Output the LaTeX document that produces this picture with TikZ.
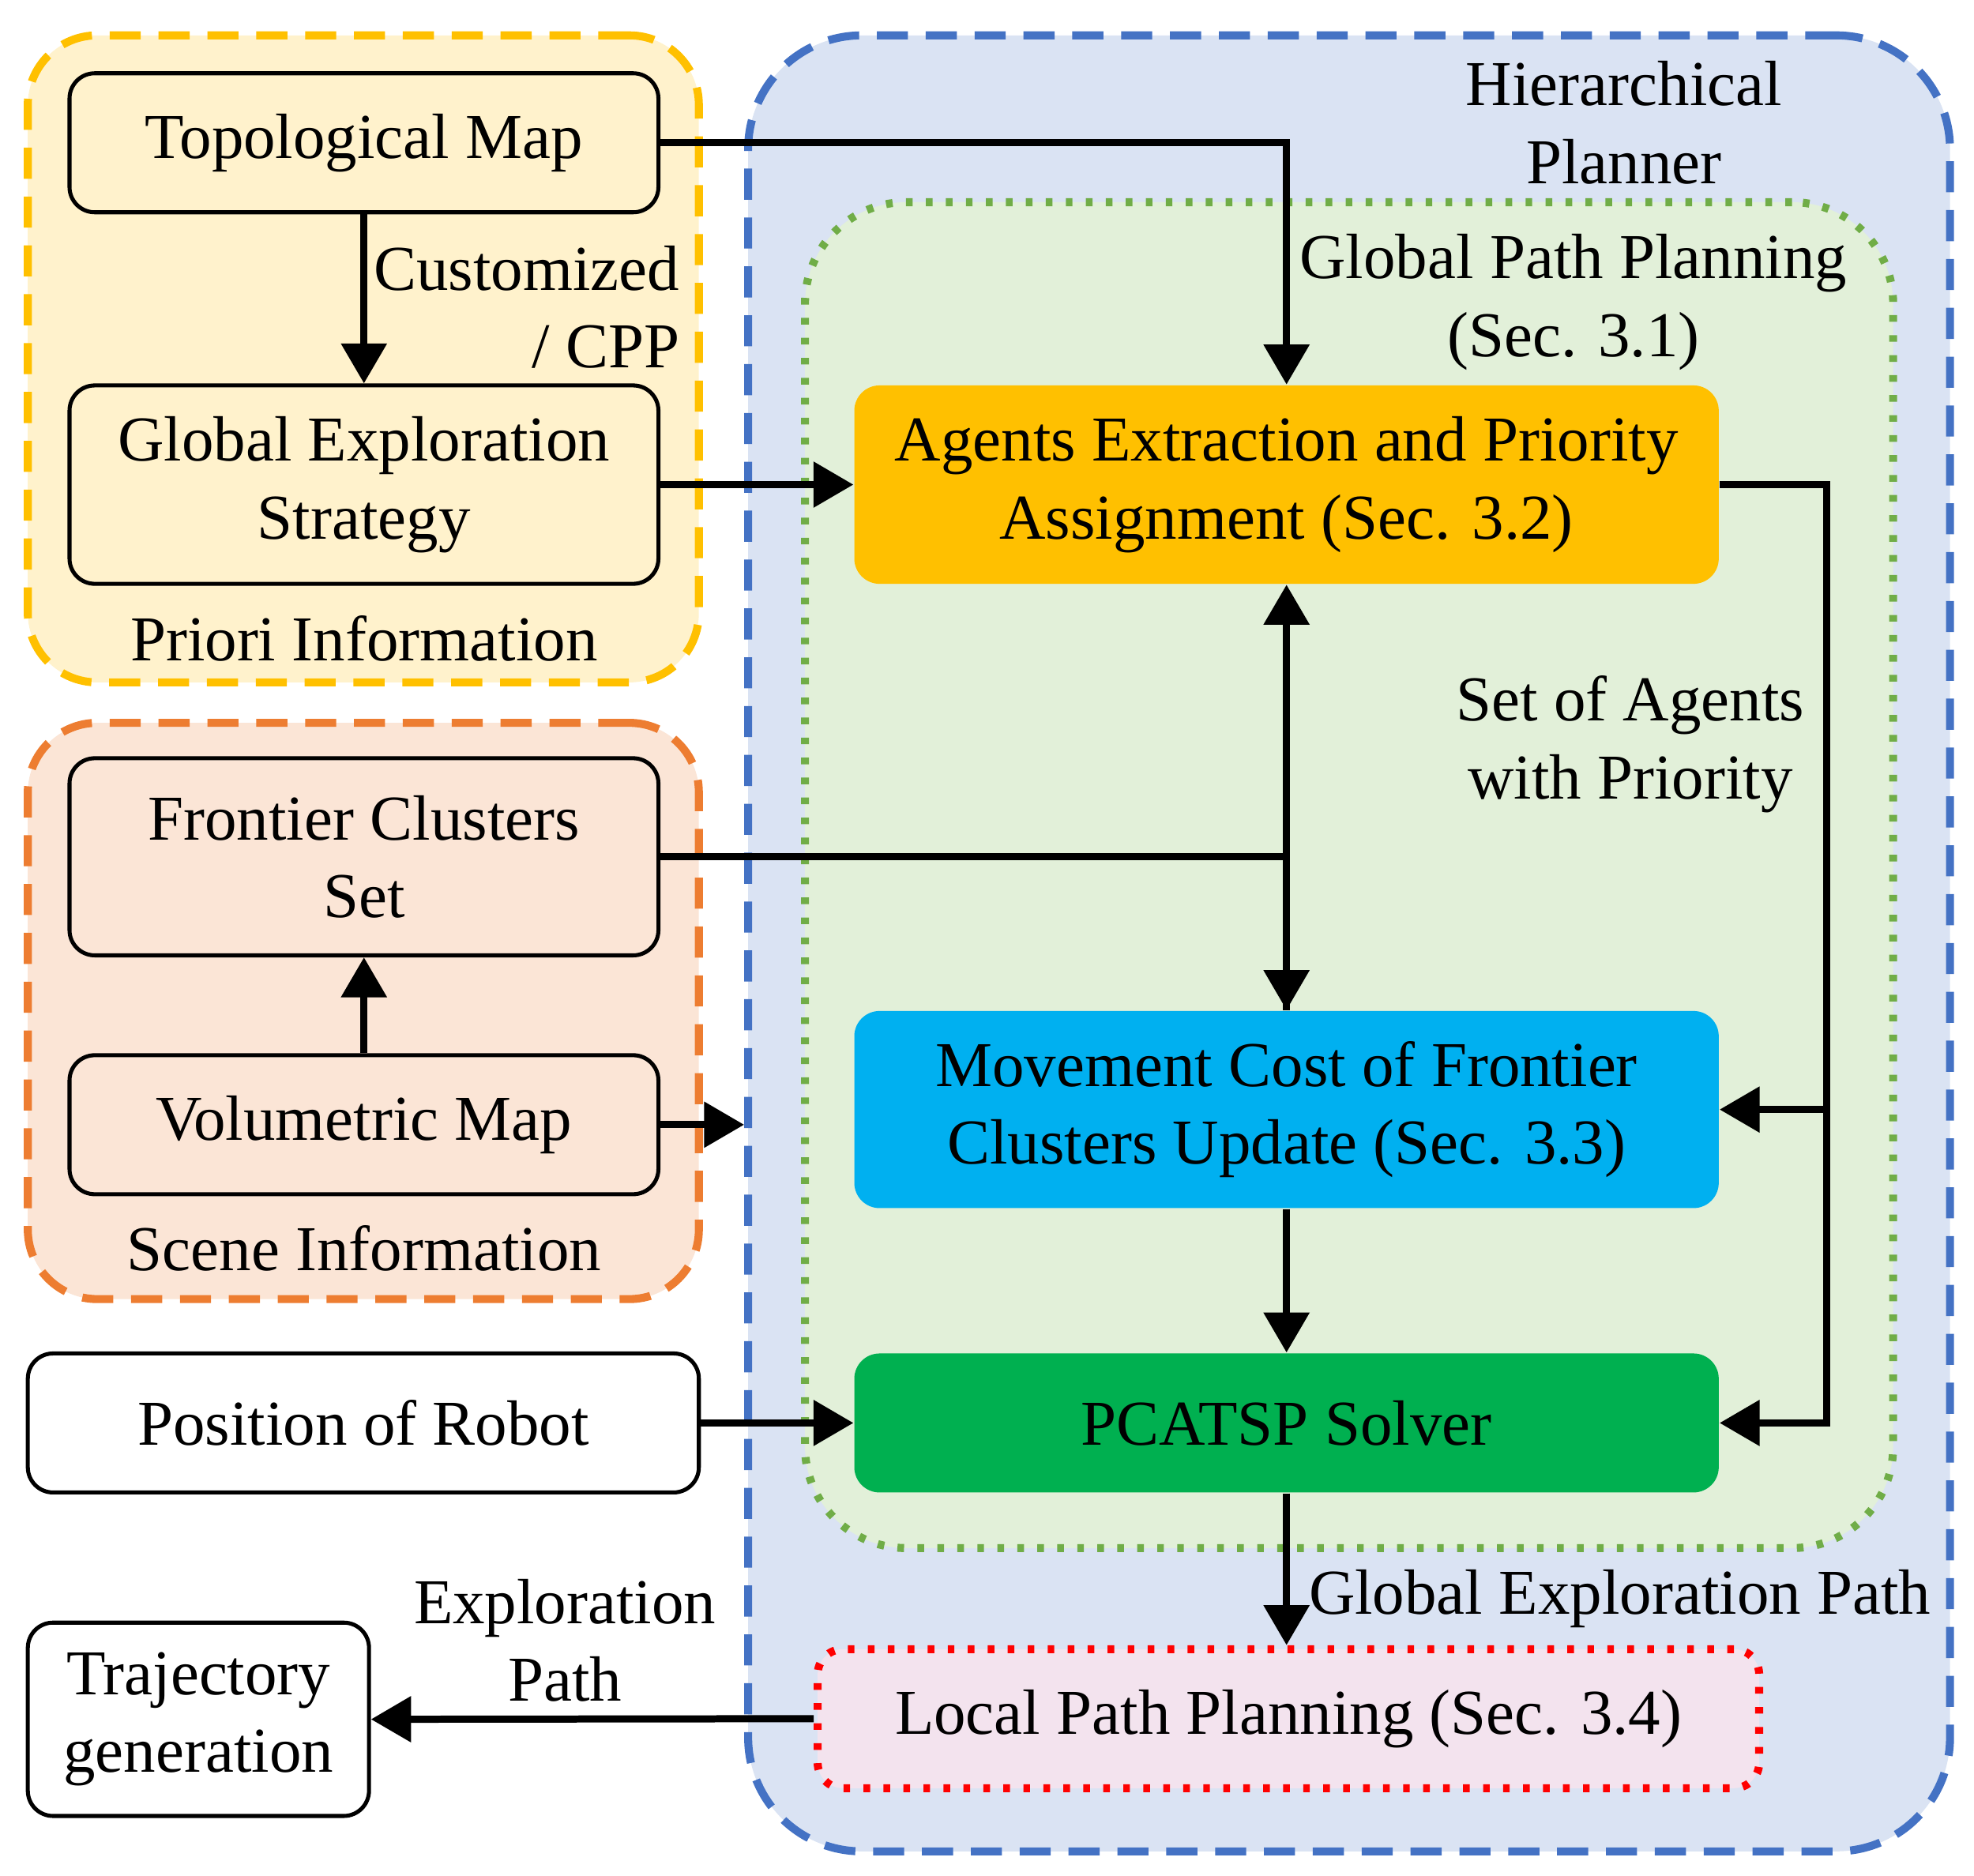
\documentclass[tikz,border=0pt]{standalone}
\usepackage{fontspec}
\setmainfont{Liberation Serif}
\usetikzlibrary{arrows.meta,positioning}

\definecolor{yelfill}{HTML}{FFF2CC}
\definecolor{yeldash}{HTML}{FFC000}
\definecolor{orafill}{HTML}{FBE5D6}
\definecolor{oradash}{HTML}{ED7D31}
\definecolor{bluefill}{HTML}{DAE3F3}
\definecolor{bluedash}{HTML}{4472C4}
\definecolor{grnfill}{HTML}{E2F0D9}
\definecolor{grndash}{HTML}{70AD47}
\definecolor{agentcol}{HTML}{FFC000}
\definecolor{movecol}{HTML}{00B0F0}
\definecolor{solvecol}{HTML}{00B050}
\definecolor{localfill}{HTML}{F3E3EE}

\tikzset{
  group/.style={draw, line width=1.8pt, rounded corners=0.55cm},
  box/.style={draw, line width=0.9pt, rounded corners=0.2cm, align=center},
  block/.style={rounded corners=0.2cm, align=center, minimum width=6.84cm},
  flow/.style={line width=1.6pt, -{Triangle[length=9pt,width=10pt]}},
}

\begin{document}
\begin{tikzpicture}[font=\fontsize{14.4}{17.5}\selectfont]
\useasboundingbox (0,0) rectangle (15.62,14.84);

% groups
\node[group, draw=yeldash, fill=yelfill, dash pattern=on 7pt off 4pt, minimum width=5.31cm, minimum height=5.12cm] (priori) at (2.875,12.00) {};
\node[group, draw=oradash, fill=orafill, dash pattern=on 7pt off 4pt, minimum width=5.31cm, minimum height=4.56cm] (scene) at (2.875,6.84) {};
\node[group, draw=bluedash, fill=bluefill, dash pattern=on 7pt off 4pt, rounded corners=0.9cm, minimum width=9.51cm, minimum height=14.37cm] (planner) at (10.675,7.375) {};
\node[group, draw=grndash, fill=grnfill, dash pattern=on 1.5pt off 3pt, rounded corners=0.8cm, minimum width=8.61cm, minimum height=10.65cm] (global) at (10.675,7.915) {};

% nodes
\node[box, fill=yelfill, minimum width=4.66cm, minimum height=1.10cm] (topo) at (2.88,13.71) {Topological Map};
\node[box, fill=yelfill, minimum width=4.66cm, minimum height=1.57cm] (strategy) at (2.88,11.005) {Global Exploration\\Strategy};
\node[box, fill=orafill, minimum width=4.66cm, minimum height=1.56cm] (frontier) at (2.88,8.06) {Frontier Clusters\\Set};
\node[box, fill=orafill, minimum width=4.66cm, minimum height=1.10cm] (volume) at (2.88,5.94) {Volumetric Map};
\node[box, fill=white, minimum width=5.31cm, minimum height=1.10cm] (robot) at (2.875,3.58) {Position of Robot};
\node[box, fill=white, minimum width=2.70cm, minimum height=1.53cm, inner sep=1pt] (traj) at (1.57,1.235) {Trajectory\\generation};

\node[block, fill=agentcol, minimum height=1.57cm] (agents) at (10.18,11.005) {Agents Extraction and Priority\\Assignment (Sec. 3.2)};
\node[block, fill=movecol, minimum height=1.56cm] (movement) at (10.18,6.06) {Movement Cost of Frontier\\Clusters Update (Sec. 3.3)};
\node[block, fill=solvecol, minimum height=1.10cm] (solver) at (10.18,3.58) {PCATSP Solver};
\node[draw=red, line width=1.8pt, dash pattern=on 1.5pt off 3pt, fill=localfill, rounded corners=0.2cm, minimum width=7.45cm, minimum height=1.10cm] (local) at (10.195,1.24) {Local Path Planning (Sec. 3.4)};

% labels
\node[align=center] (plannerlbl) at (12.85,13.87) {Hierarchical\\Planner};
\node[align=center] (globallbl) at (12.45,12.45) {Global Path Planning\\(Sec. 3.1)};
\node[align=right, anchor=east] (cpplbl) at (5.50,12.41) {Customized\\/ CPP};
\node (priorilbl) at (2.88,9.79) {Priori Information};
\node (scenelbl) at (2.88,4.96) {Scene Information};
\node[align=center] (setlbl) at (12.9,8.95) {Set of Agents\\with Priority};
\node[anchor=west, inner sep=0pt] (pathlbl) at (10.35,2.19) {Global Exploration Path};
\node[align=center] (explbl) at (4.47,1.86) {Exploration\\Path};

% connectors
\draw[flow] (topo.east) -| (agents.north);
\draw[flow] (topo.south) -- (strategy.north);
\draw[flow] (strategy.east) -- (agents.west);
\draw[flow] (movement.north) -- (agents.south);
\draw[flow] (frontier.east) -| (movement.north);
\draw[flow] (volume.north) -- (frontier.south);
\draw[flow] (volume.east) -- (volume.east -| planner.west);
\draw[flow] (agents.east) -- ++(0.85,0) coordinate (turn) |- (solver.east);
\draw[flow] (turn |- movement.east) -- (movement.east);
\draw[flow] (movement.south) -- (solver.north);
\draw[flow] (robot.east) -- (solver.west);
\draw[flow] (solver.south) -- (solver.south |- local.north);
\draw[flow] (local.west) -- (traj.east);

\end{tikzpicture}
\end{document}
